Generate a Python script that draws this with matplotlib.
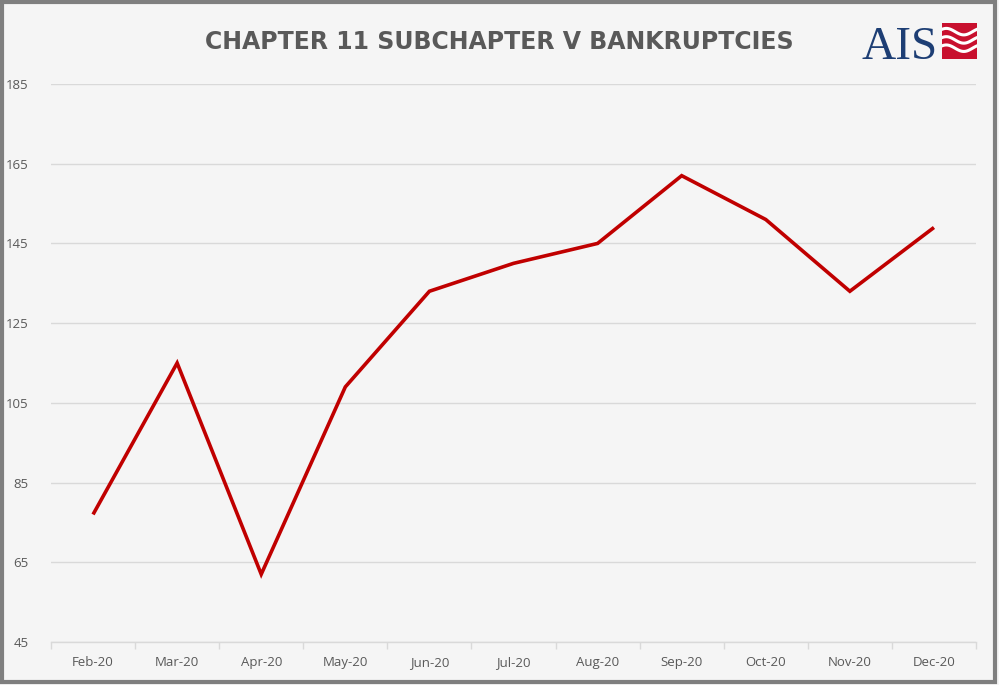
import numpy as np
import matplotlib
matplotlib.use("Agg")
import matplotlib.pyplot as plt
from matplotlib.patches import Rectangle

months = ["Feb-20", "Mar-20", "Apr-20", "May-20", "Jun-20", "Jul-20",
          "Aug-20", "Sep-20", "Oct-20", "Nov-20", "Dec-20"]
filings = [77, 115, 62, 109, 133, 140, 145, 162, 151, 133, 149]
y_ticks = [45, 65, 85, 105, 125, 145, 165, 185]

W, H = 999, 685
bg = "#f5f5f5"
txt = "#595959"

fig = plt.figure(figsize=(W / 100, H / 100), dpi=100, facecolor=bg)
ax = fig.add_axes([51 / W, 43 / H, 925 / W, 558 / H], facecolor=bg)

x = np.arange(len(months))
ax.plot(x, filings, color="#c00000", linewidth=2.6, solid_joinstyle="miter",
        solid_capstyle="butt", zorder=3)

ax.set_xlim(-0.5, len(months) - 0.5)
ax.set_ylim(y_ticks[0], y_ticks[-1])
ax.set_yticks(y_ticks)
ax.set_xticks(x)
ax.set_xticklabels(months)
ax.set_xticks(np.arange(-0.5, len(months)), minor=True)
ax.grid(axis="y", color="#d9d9d9", linewidth=1.0)
ax.set_axisbelow(True)

for s in ["top", "right", "left"]:
    ax.spines[s].set_visible(False)
ax.spines["bottom"].set_color("#d9d9d9")
ax.spines["bottom"].set_linewidth(1.0)

ax.tick_params(axis="x", which="major", length=0, pad=10, labelsize=9.5,
               labelcolor=txt)
ax.tick_params(axis="x", which="minor", length=5, color="#d9d9d9", width=1.0)
ax.tick_params(axis="y", length=0, pad=16, labelsize=9.5, labelcolor=txt)
for lab in ax.get_xticklabels() + ax.get_yticklabels():
    lab.set_fontfamily("Open Sans")

fig.text(499 / W, 1 - 42 / H, "CHAPTER 11 SUBCHAPTER V BANKRUPTCIES",
         ha="center", va="center", fontsize=17, fontweight="bold",
         color=txt, family="DejaVu Sans")

# logo
fig.text(862 / W, 1 - 59 / H, "AIS", ha="left", va="baseline",
         fontsize=34, color="#1d3e74", family="Liberation Serif")
lax = fig.add_axes([942 / W, 1 - 59 / H, 35 / W, 36 / H], facecolor="#c8102e")
t = np.linspace(0, 1, 100)
for off in [0.3, 0.53, 0.76]:
    lax.plot(t, off + 0.09 * np.sin(2 * np.pi * t + 0.8), color="white",
             linewidth=2.2)
lax.set_xlim(0, 1)
lax.set_ylim(0, 1)
lax.axis("off")
lax.add_patch(Rectangle((0, 0), 1, 1, facecolor="#c8102e", zorder=0))

# frame
fig.patches.append(Rectangle((1.5 / W, 3 / H), (W - 6) / W, (H - 4.5) / H,
                             transform=fig.transFigure, fill=False,
                             edgecolor="#7f7f7f", linewidth=3))

fig.savefig("out.png", dpi=100, facecolor=bg)
